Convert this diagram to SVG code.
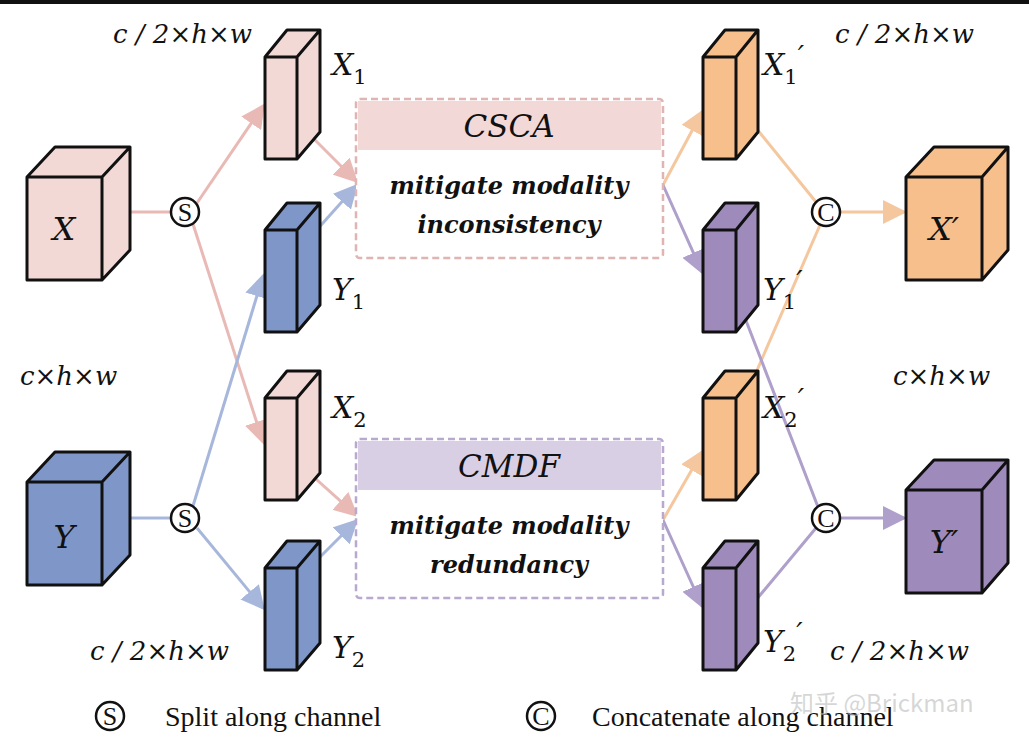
<svg xmlns="http://www.w3.org/2000/svg" width="1029" height="748" viewBox="0 0 1029 748">
<defs>
<style>
.t{font-family:"DejaVu Serif","Liberation Serif",serif;font-style:italic;fill:#111}
.b{font-family:"DejaVu Serif","Liberation Serif",serif;font-style:italic;font-weight:bold;fill:#111}
.r{font-family:"Liberation Serif",serif;fill:#111}
.cube{stroke:#111;stroke-width:3;stroke-linejoin:round}
.pk{fill:#f2d9d6}.bl{fill:#7f97c8}.or{fill:#f6bf8c}.pu{fill:#9e8bbb}
.ln{fill:none;stroke-width:3}
.cpk{stroke:#e9b9b5}.cbl{stroke:#a7b7dc}.cor{stroke:#f4c79f}.cpu{stroke:#ae9fcb}
.circ{fill:#fff;stroke:#111;stroke-width:2.5}
</style>
<marker id="apk" markerWidth="8" markerHeight="8" refX="7" refY="4" orient="auto" viewBox="0 0 8 8"><path d="M0,0L8,4L0,8z" fill="#e9b9b5"/></marker>
<marker id="abl" markerWidth="8" markerHeight="8" refX="7" refY="4" orient="auto" viewBox="0 0 8 8"><path d="M0,0L8,4L0,8z" fill="#a7b7dc"/></marker>
<marker id="aor" markerWidth="8" markerHeight="8" refX="7" refY="4" orient="auto" viewBox="0 0 8 8"><path d="M0,0L8,4L0,8z" fill="#f4c79f"/></marker>
<marker id="apu" markerWidth="8" markerHeight="8" refX="7" refY="4" orient="auto" viewBox="0 0 8 8"><path d="M0,0L8,4L0,8z" fill="#ae9fcb"/></marker>
</defs>
<rect width="1029" height="748" fill="#fff"/>
<rect width="1029" height="4" fill="#111"/>

<g id="connectors">
<line class="ln cpk" x1="102" y1="212" x2="172" y2="212"/>
<line class="ln cpk" x1="197" y1="203" x2="263" y2="106" marker-end="url(#apk)"/>
<line class="ln cpk" x1="193" y1="224" x2="263" y2="442" marker-end="url(#apk)"/>
<line class="ln cpk" x1="290" y1="115" x2="356" y2="181" marker-end="url(#apk)"/>
<line class="ln cbl" x1="297" y1="252" x2="356" y2="186" marker-end="url(#abl)"/>
<line class="ln cbl" x1="102" y1="518" x2="172" y2="518"/>
<line class="ln cbl" x1="193" y1="506" x2="263" y2="276" marker-end="url(#abl)"/>
<line class="ln cbl" x1="197" y1="528" x2="263" y2="608" marker-end="url(#abl)"/>
<line class="ln cpk" x1="297" y1="462" x2="356" y2="515" marker-end="url(#apk)"/>
<line class="ln cbl" x1="297" y1="580" x2="356" y2="521" marker-end="url(#abl)"/>
<line class="ln cor" x1="663" y1="185" x2="702" y2="112" marker-end="url(#aor)"/>
<line class="ln cpu" x1="663" y1="185" x2="702" y2="272" marker-end="url(#apu)"/>
<line class="ln cor" x1="663" y1="520" x2="702" y2="452" marker-end="url(#aor)"/>
<line class="ln cpu" x1="663" y1="520" x2="702" y2="606" marker-end="url(#apu)"/>
<line class="ln cor" x1="756" y1="128" x2="816" y2="202"/>
<line class="ln cor" x1="745" y1="398" x2="820" y2="225"/>
<line class="ln cor" x1="839" y1="212" x2="904" y2="212" marker-end="url(#aor)"/>
<line class="ln cpu" x1="745" y1="318" x2="818" y2="507"/>
<line class="ln cpu" x1="756" y1="600" x2="816" y2="528"/>
<line class="ln cpu" x1="839" y1="518" x2="904" y2="518" marker-end="url(#apu)"/>
</g>

<g id="X"><path class="cube pk" d="M27,177H102V280H27Z M27,177L55,147H130L102,177Z M102,177L130,147V250L102,280Z"/><text class="t" x="64" y="240" font-size="32" text-anchor="middle">X</text></g>
<g id="Y"><path class="cube bl" d="M27,482H102V585H27Z M27,482L55,452H130L102,482Z M102,482L130,452V555L102,585Z"/><text class="t" x="64" y="548" font-size="32" text-anchor="middle">Y</text></g>
<g id="Xp"><path class="cube or" d="M906,177H982V280H906Z M906,177L934,147H1008L982,177Z M982,177L1008,147V250L982,280Z"/><text class="t" x="944" y="240" font-size="32" text-anchor="middle">X′</text></g>
<g id="Yp"><path class="cube pu" d="M906,490H982V593H906Z M906,490L934,460H1008L982,490Z M982,490L1008,460V563L982,593Z"/><text class="t" x="944" y="553" font-size="32" text-anchor="middle">Y′</text></g>

<g id="X1"><path class="cube pk" d="M265,57H297V159H265Z M265,57L287,30H320L297,57Z M297,57L320,30V132L297,159Z"/></g>
<g id="Y1"><path class="cube bl" d="M265,230H297V332H265Z M265,230L287,203H320L297,230Z M297,230L320,203V305L297,332Z"/></g>
<g id="X2"><path class="cube pk" d="M265,398H297V500H265Z M265,398L287,371H320L297,398Z M297,398L320,371V473L297,500Z"/></g>
<g id="Y2"><path class="cube bl" d="M265,568H297V670H265Z M265,568L287,541H320L297,568Z M297,568L320,541V643L297,670Z"/></g>
<g id="X1p"><path class="cube or" d="M703,57H736V159H703Z M703,57L725,30H758L736,57Z M736,57L758,30V132L736,159Z"/></g>
<g id="Y1p"><path class="cube pu" d="M703,230H736V332H703Z M703,230L725,203H758L736,230Z M736,230L758,203V305L736,332Z"/></g>
<g id="X2p"><path class="cube or" d="M703,398H736V500H703Z M703,398L725,371H758L736,398Z M736,398L758,371V473L736,500Z"/></g>
<g id="Y2p"><path class="cube pu" d="M703,568H736V670H703Z M703,568L725,541H758L736,568Z M736,568L758,541V643L736,670Z"/></g>

<g id="S1"><circle class="circ" cx="185" cy="212" r="14"/><text class="r" x="185" y="221" font-size="26" text-anchor="middle">S</text></g>
<g id="S2"><circle class="circ" cx="185" cy="518" r="14"/><text class="r" x="185" y="527" font-size="26" text-anchor="middle">S</text></g>
<g id="C1"><circle class="circ" cx="826" cy="212" r="14"/><text class="r" x="826" y="221" font-size="26" text-anchor="middle">C</text></g>
<g id="C2"><circle class="circ" cx="826" cy="518" r="14"/><text class="r" x="826" y="527" font-size="26" text-anchor="middle">C</text></g>

<g id="CSCA">
<rect x="356" y="99" width="307" height="159" rx="4" fill="#fff" stroke="#e0b4b2" stroke-width="2.5" stroke-dasharray="7,4"/>
<rect x="358" y="101" width="303" height="49" fill="#f2d9d8"/>
<text class="t" x="509" y="137" font-size="31" text-anchor="middle">CSCA</text>
<text class="b" x="509" y="194" font-size="24" text-anchor="middle">mitigate modality</text>
<text class="b" x="509" y="233" font-size="24" text-anchor="middle">inconsistency</text>
</g>
<g id="CMDF">
<rect x="356" y="439" width="307" height="159" rx="4" fill="#fff" stroke="#b9a9cf" stroke-width="2.5" stroke-dasharray="7,4"/>
<rect x="358" y="441" width="303" height="49" fill="#d9cfe5"/>
<text class="t" x="509" y="477" font-size="31" text-anchor="middle">CMDF</text>
<text class="b" x="509" y="534" font-size="24" text-anchor="middle">mitigate modality</text>
<text class="b" x="509" y="573" font-size="24" text-anchor="middle">redundancy</text>
</g>

<g id="labels">
<text class="t" x="113" y="43" font-size="26">c / 2×h×w</text>
<text class="t" x="835" y="43" font-size="26">c / 2×h×w</text>
<text class="t" x="90" y="660" font-size="26">c / 2×h×w</text>
<text class="t" x="830" y="660" font-size="26">c / 2×h×w</text>
<text class="t" x="20" y="385" font-size="26">c×h×w</text>
<text class="t" x="893" y="385" font-size="26">c×h×w</text>
<text class="t" x="332" y="75" font-size="30">X<tspan font-size="21" font-style="normal" dy="9">1</tspan></text>
<text class="t" x="332" y="300" font-size="30">Y<tspan font-size="21" font-style="normal" dy="9">1</tspan></text>
<text class="t" x="332" y="418" font-size="30">X<tspan font-size="21" font-style="normal" dy="9">2</tspan></text>
<text class="t" x="332" y="658" font-size="30">Y<tspan font-size="21" font-style="normal" dy="9">2</tspan></text>
<text class="t" x="763" y="75" font-size="30">X<tspan font-size="21" font-style="normal" dy="9">1</tspan><tspan dy="-18" font-size="28">′</tspan></text>
<text class="t" x="763" y="300" font-size="30">Y<tspan font-size="21" font-style="normal" dy="9">1</tspan><tspan dy="-18" font-size="28">′</tspan></text>
<text class="t" x="763" y="418" font-size="30">X<tspan font-size="21" font-style="normal" dy="9">2</tspan><tspan dy="-18" font-size="28">′</tspan></text>
<text class="t" x="763" y="652" font-size="30">Y<tspan font-size="21" font-style="normal" dy="9">2</tspan><tspan dy="-18" font-size="28">′</tspan></text>
</g>

<g id="legend">
<circle class="circ" cx="110" cy="716" r="14"/><text class="r" x="110" y="725" font-size="26" text-anchor="middle">S</text>
<text class="r" x="165" y="726" font-size="28">Split along channel</text>
<circle class="circ" cx="541" cy="716" r="14"/><text class="r" x="541" y="725" font-size="26" text-anchor="middle">C</text>
<text class="r" x="592" y="726" font-size="28">Concatenate along channel</text>
<text x="790" y="712" font-size="24" font-family="Noto Sans CJK SC, sans-serif" fill="#bbb" fill-opacity="0.6">知乎 @Brickman</text>
</g>
</svg>
